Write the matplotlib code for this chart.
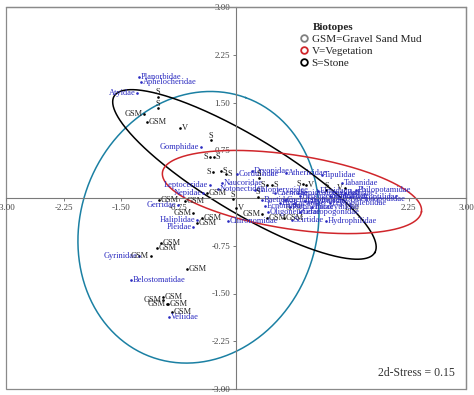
import numpy as np
import matplotlib
matplotlib.use("Agg")
import matplotlib.pyplot as plt
from matplotlib.lines import Line2D

plt.rcParams['font.family'] = ['Liberation Serif', 'DejaVu Serif']

# ---- sample points (biotope codes) ----
sample_x = [-1.02, -1.02, -1.20, -1.16, -0.73, -0.33, -0.34, -0.29, -0.30, -0.20,
            -0.13, 0.30, 0.40, 0.47, 0.87, 0.91, 1.18, 1.42, -1.00, -0.56,
            -0.44, -0.51, -0.66, -0.38, 0.00, 0.34, 0.40, 0.63, 0.29, -0.04,
            -0.98, -1.03, -1.11, -0.64, -0.95, -0.95, -0.90, -0.89, -0.83]
sample_y = [1.59, 1.41, 1.32, 1.19, 1.10, 0.91, 0.64, 0.64, 0.41, 0.42,
            0.38, 0.31, 0.20, 0.20, 0.22, 0.20, 0.12, 0.16, -0.03, -0.24,
            -0.31, -0.39, -0.05, 0.08, -0.16, -0.25, -0.31, -0.31, 0.02, -0.02,
            -0.71, -0.79, -0.91, -1.11, -1.55, -1.60, -1.66, -1.66, -1.79]
sample_lab = ['S', 'S', 'GSM', 'GSM', 'V', 'S', 'S', 'S', 'S', 'S',
              'S', 'S', 'S', 'S', 'S', 'V', 'S', 'V', 'GSM', 'GSM',
              'GSM', 'GSM', 'GSM', 'GSM', 'V', 'GSM', 'GSM', 'GSM', 'S', 'S',
              'GSM', 'GSM', 'GSM', 'GSM', 'GSM', 'GSM', 'GSM', 'GSM', 'GSM']
sample_side = ['t', 't', 'l', 'r', 'r', 't', 'l', 'r', 'l', 'r',
               'r', 't', 'l', 'r', 'l', 'r', 't', 'l', 'r', 'l',
               'r', 'r', 'r', 'r', 'r', 'l', 'r', 'r', 't', 't',
               'r', 'r', 'l', 'r', 'r', 'l', 'l', 'r', 'r']

# ---- taxa (families) ----
taxa_x = [-1.26, -1.24, -1.29, -0.46, 0.01, 0.21, 0.65, 1.12, 1.38, -0.18,
          -0.23, -0.34, -0.43, -0.76, -0.51, -0.56, -0.10, -1.26, -1.37, -0.87,
          0.73, 1.17, 0.42, 1.23, 0.34, 0.51, 0.83, 1.07, 1.23, 1.42,
          1.49, 1.56, 0.38, 0.70, 0.83, 0.90, 0.64, 0.99, 1.36, 0.81,
          0.57, 0.25]
taxa_y = [1.90, 1.82, 1.65, 0.80, 0.38, 0.42, 0.39, 0.36, 0.24, 0.24,
          0.14, 0.20, 0.08, -0.11, -0.35, -0.46, -0.36, -0.91, -1.29, -1.87,
          -0.35, -0.36, -0.22, -0.08, -0.03, 0.08, 0.03, 0.11, 0.03, 0.08,
          0.02, 0.13, -0.13, -0.14, -0.22, -0.05, -0.03, -0.14, -0.02, 0.08,
          -0.08, 0.13]
taxa_lab = ['Planorbidae', 'Aphelocheridae', 'Atyidae', 'Gomphidae', 'Corduliidae',
            'Dryopidae', 'Athericidae', 'Tipulidae', 'Tabanidae', 'Naucoridae',
            'Notonectidae', 'Leptoceridae', 'Nepidae', 'Gerridae', 'Haliplidae',
            'Pleidae', 'Chironomidae', 'Gyrinidae', 'Belostomatidae', 'Veliidae',
            'Scirtidae', 'Hydrophilidae', 'Oligoneuriidae', 'Leptophlebiidae', 'Baetidae',
            'Caenidae', 'Heptageniidae', 'Elmidae', 'Simuliidae', 'Perlidae',
            'Hydroptilidae', 'Philopotamidae', 'Ecnomidae', 'Psephenidae', 'Ceratopogonidae',
            'Libellulidae', 'Coenagrionidae', 'Tricorythidae', 'Polycentropodidae', 'Lepidostomatidae',
            'Hydraenidae', 'Calopterygidae']
taxa_side = ['r', 'r', 'l', 'l', 'r', 'r', 'r', 'r', 'r', 'r',
             'r', 'l', 'l', 'l', 'l', 'l', 'r', 'l', 'r', 'r',
             'r', 'r', 'r', 'r', 'r', 'r', 'r', 'r', 'r', 'r',
             'r', 'r', 'r', 'r', 'r', 'r', 'r', 'r', 'r', 'r',
             'r', 'r']

# biotope ellipses: centre (data), semi-axes (pixels), angle (deg, pixel space)
ELLIPSES = [
    ('GSM', (-0.49, -0.46), 138, 118, 70, '#1b80a3'),
    ('S', (0.11, 0.37), 152, 38, -31, '#000000'),
    ('V', (0.73, 0.094), 131, 37, -8.7, '#d0262b'),
]
legend_lab = ['GSM=Gravel Sand Mud', 'V=Vegetation', 'S=Stone']
legend_col = ['#808080', '#d0262b', '#000000']
STRESS = 0.15

BLUE = '#2a2ac0'
GREY = '#222222'

W, H, DPI = 474, 395, 100
L, R, B, T = 6 / W, 466 / W, 1 - 389 / H, 1 - 7 / H

fig = plt.figure(figsize=(W / DPI, H / DPI), dpi=DPI)
ax = fig.add_axes([L, B, R - L, T - B])
ax.set_xlim(-3, 3)
ax.set_ylim(-3, 3)

# pixels per data unit (for drawing ellipses in screen shape)
px_x = W * (R - L) / 6.0
px_y = H * (T - B) / 6.0

# frame + crossing axes
for s in ['top', 'right']:
    ax.spines[s].set_color('#8a8a8a')
    ax.spines[s].set_linewidth(0.9)
ax.spines['left'].set_position(('data', 0))
ax.spines['bottom'].set_position(('data', 0))
for s in ['left', 'bottom']:
    ax.spines[s].set_color('#7a7a7a')
    ax.spines[s].set_linewidth(0.8)
ax.add_patch(plt.Rectangle((0, 0), 1, 1, transform=ax.transAxes, fill=False,
                           ec='#8a8a8a', lw=0.9, clip_on=False, zorder=0))

ticks = [-3, -2.25, -1.5, -0.75, 0.75, 1.5, 2.25, 3]
ax.set_xticks(ticks)
ax.set_yticks(ticks)
ax.set_xticklabels([f'{t:.2f}' for t in ticks])
ax.set_yticklabels([f'{t:.2f}' for t in ticks])
ax.tick_params(direction='out', length=2.5, width=0.7, color='#7a7a7a',
               labelsize=6.5, labelcolor='#444444', pad=1.5)

# ellipses
t = np.linspace(0, 2 * np.pi, 400)
for name, (cx, cy), a, b, ang, col in ELLIPSES:
    th = np.radians(ang)
    u = a * np.cos(t)
    v = b * np.sin(t)
    du = u * np.cos(th) - v * np.sin(th)
    dv = u * np.sin(th) + v * np.cos(th)
    ax.plot(cx + du / px_x, cy + dv / px_y, color=col, lw=1.1, zorder=2)


def put_labels(xs, ys, labs, sides, color):
    for x, y, lab, sd in zip(xs, ys, labs, sides):
        if sd == 'r':
            off, ha, va = (1.2, 0), 'left', 'center'
        elif sd == 'l':
            off, ha, va = (-1.2, 0), 'right', 'center'
        else:
            off, ha, va = (0, 0.3), 'center', 'bottom'
        ax.annotate(lab, (x, y), xytext=off, textcoords='offset points',
                    ha=ha, va=va, fontsize=6, color=color, zorder=4)


ax.plot(taxa_x, taxa_y, 'o', ms=1.9, color=BLUE, mew=0, zorder=3)
put_labels(taxa_x, taxa_y, taxa_lab, taxa_side, BLUE)
ax.plot(sample_x, sample_y, 'o', ms=1.9, color='black', mew=0, zorder=3)
put_labels(sample_x, sample_y, sample_lab, sample_side, GREY)

# legend
handles = [Line2D([], [], ls='', marker='o', ms=4.8, mfc='none', mec=c, mew=1.3)
           for c in legend_col]
leg = fig.legend(handles, legend_lab, loc='upper left',
                 bbox_to_anchor=(300 / W, 1 - 34 / H), frameon=False,
                 fontsize=8, handlelength=0.7, handletextpad=0.35,
                 labelspacing=0.2, borderpad=0, borderaxespad=0)
for txt in leg.get_texts():
    txt.set_color('#222222')
fig.text(313 / W, 1 - 28 / H, 'Biotopes', fontsize=8, fontweight='bold',
         color='#222222', va='center', ha='left')

ax.text(378 / W, 1 - 373 / H, f'2d-Stress = {STRESS:.2f}', transform=fig.transFigure,
        fontsize=8.5, color='#333333', va='center', ha='left')

fig.savefig('out.png', dpi=DPI)
